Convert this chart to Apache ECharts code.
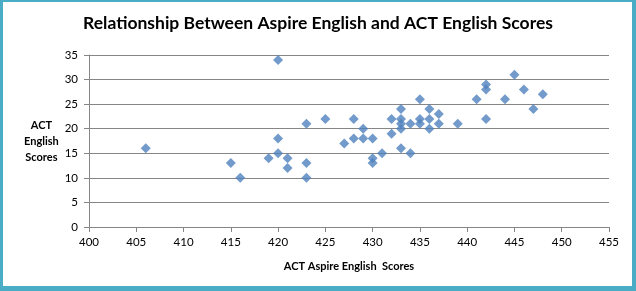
<!DOCTYPE html>
<html>
<head>
<meta charset="utf-8">
<script src="https://cdn.jsdelivr.net/npm/echarts@6/dist/echarts.min.js"></script>
<style>
html,body{margin:0;padding:0;background:#fff;}
#chart{position:absolute;left:0;top:0;width:636px;height:291px;}
#frame{position:absolute;left:0;top:0;width:636px;height:291px;box-sizing:border-box;
border-style:solid;border-color:#4BACC6;border-width:2px 4px 5px 3px;pointer-events:none;}
</style>
</head>
<body>
<div id="chart"></div>
<div id="frame"></div>
<script>
// ACT Aspire English scores (x) and ACT English scores (y)
const aspireScores = [406,415,416,419,420,420,420,421,421,423,423,423,425,427,428,428,429,429,430,430,430,431,432,432,433,433,433,433,433,434,434,435,435,435,436,436,436,437,437,439,441,442,442,442,444,445,446,447,448];
const actScores    = [16,13,10,14,34,18,15,14,12,21,13,10,22,17,22,18,20,18,18,14,13,15,19,22,24,22,21,20,16,21,15,26,22,21,24,22,20,23,21,21,26,29,28,22,26,31,28,24,27];
const xTicks = {min:400, max:455, interval:5};
const yTicks = {min:0, max:35, interval:5};

const points = aspireScores.map((x,i)=>[x, actScores[i]]);
const font = 'Lato, "Open Sans", sans-serif';
const chart = echarts.init(document.getElementById('chart'), null, {renderer:'canvas'});
chart.setOption({
  animation:false,
  backgroundColor:'#fff',
  title:{
    text:'Relationship Between Aspire English and ACT English Scores',
    left:'center', top:9,
    textStyle:{fontFamily:font, fontWeight:'bold', fontSize:17.5, color:'#000'}
  },
  grid:{left:89, right:27, top:55, bottom:64, containLabel:false},
  xAxis:{
    type:'value', min:xTicks.min, max:xTicks.max, interval:xTicks.interval,
    name:'ACT Aspire English  Scores', nameLocation:'middle', nameGap:39,
    nameTextStyle:{fontFamily:font, fontWeight:'bold', fontSize:11, color:'#000', verticalAlign:'middle'},
    axisLine:{show:true, lineStyle:{color:'#868686', width:1}},
    axisTick:{show:true, length:5, lineStyle:{color:'#868686'}},
    axisLabel:{fontFamily:font, fontSize:11.5, color:'#000', margin:9},
    splitLine:{show:false}
  },
  yAxis:{
    type:'value', min:yTicks.min, max:yTicks.max, interval:yTicks.interval,
    name:'ACT\nEnglish\nScores', nameLocation:'middle', nameGap:44, nameRotate:0,
    nameTextStyle:{fontFamily:font, fontWeight:'bold', fontSize:11, color:'#000', align:'center', verticalAlign:'middle', lineHeight:16},
    axisLine:{show:true, lineStyle:{color:'#868686', width:1}},
    axisTick:{show:true, length:5, lineStyle:{color:'#868686'}},
    axisLabel:{fontFamily:font, fontSize:11.5, color:'#000', margin:11},
    splitLine:{show:true, lineStyle:{color:'#868686', width:1}}
  },
  series:[{
    type:'scatter',
    data:points,
    symbol:'diamond',
    symbolSize:10,
    itemStyle:{color:'#4F81BD'}
  }]
});
</script>
</body>
</html>
